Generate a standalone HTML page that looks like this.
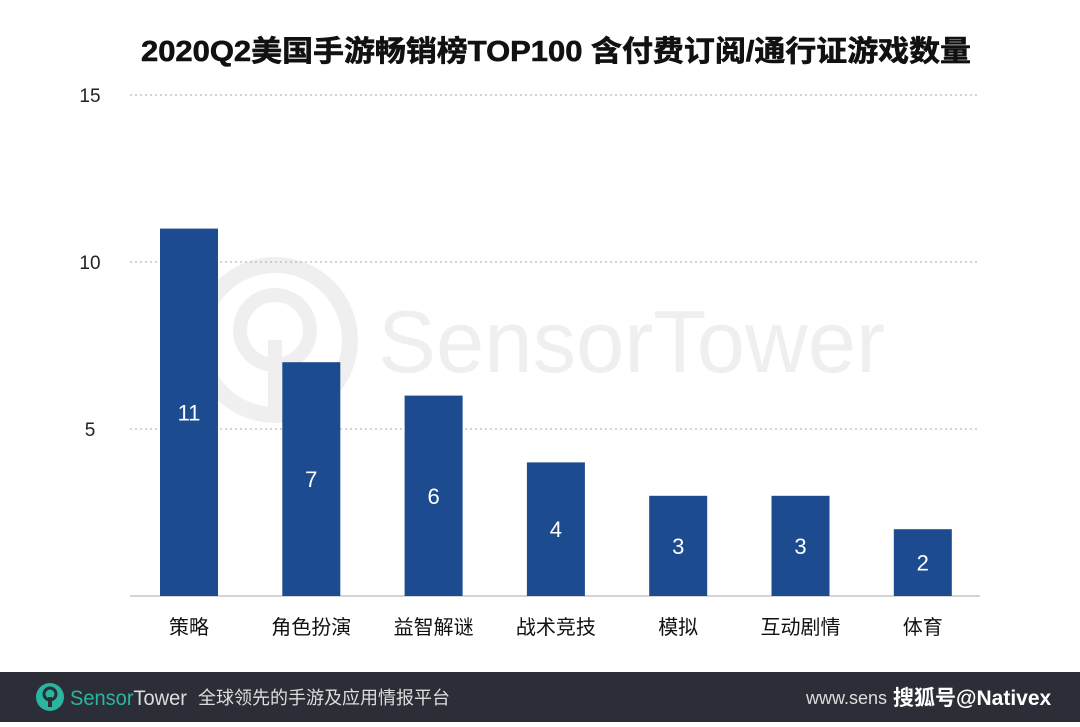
<!DOCTYPE html>
<html><head><meta charset="utf-8"><style>
body{margin:0;width:1080px;height:722px;background:#fff;overflow:hidden;font-family:"Liberation Sans","Noto Sans CJK SC",sans-serif;}
</style></head><body>
<svg id="c" width="1080" height="722" xmlns="http://www.w3.org/2000/svg">
<text x="556" y="61" text-anchor="middle" font-size="29" font-weight="bold" fill="#111" stroke="#111" stroke-width="0.6" textLength="830" lengthAdjust="spacingAndGlyphs" font-family="Liberation Sans,Noto Sans CJK SC,sans-serif">2020Q2美国手游畅销榜TOP100 含付费订阅/通行证游戏数量</text>
<g opacity="0.06">
<circle cx="275" cy="340" r="75" fill="none" stroke="#000" stroke-width="16"/>
<circle cx="275" cy="330" r="35" fill="none" stroke="#000" stroke-width="14"/>
<rect x="268" y="340" width="14" height="75" fill="#000"/>
<text x="378" y="372" font-size="88" fill="#000" textLength="507" lengthAdjust="spacingAndGlyphs" font-family="Liberation Sans,sans-serif">SensorTower</text>
</g>
<g id="grid"></g><g id="bars"></g>
<rect x="0" y="672" width="1080" height="50" fill="#2b2e37"/>
<circle cx="50" cy="697" r="14" fill="#29b5a0"/>
<circle cx="50" cy="694" r="6" fill="none" stroke="#2b2e37" stroke-width="3"/>
<rect x="48" y="697" width="4" height="10" fill="#2b2e37"/>
<text x="70" y="705" font-size="21" fill="#29b5a0" textLength="117" lengthAdjust="spacingAndGlyphs">Sensor<tspan fill="#ddd">Tower</tspan></text>
<text x="198" y="704" font-size="18" fill="#ddd">全球领先的手游及应用情报平台</text>
<text x="806" y="704" font-size="18" fill="#ddd">www.sens</text>
<text x="893" y="705" font-size="21" font-weight="bold" fill="#fff">搜狐号@Nativex</text>
</svg>
<script>
const categories=["策略","角色扮演","益智解谜","战术竞技","模拟","互动剧情","体育"];
const values=[11,7,6,4,3,3,2];
const ticks=[0,5,10,15];
const NS="http://www.w3.org/2000/svg";
const y=v=>596-v*33.4;
const x=i=>189+i*122.3;
function mk(t,a,p){const e=document.createElementNS(NS,t);for(const k in a)e.setAttribute(k,a[k]);p.appendChild(e);return e;}
const g=document.getElementById('grid'),b=document.getElementById('bars');
ticks.forEach(t=>{
 const l=mk('line',{x1:130,x2:980,y1:y(t),y2:y(t),stroke:'#aaa','stroke-width':1,'stroke-dasharray':t===0?'':'2,3'},g);
 
 
 if(t>0){const tx=mk('text',{x:90,y:y(t)+7,'text-anchor':'middle','font-size':19,fill:'#222'},g);tx.textContent=t;
 
 }
});
values.forEach((v,i)=>{
 const r=mk('rect',{x:x(i)-29,y:y(v),width:58,height:y(0)-y(v),fill:'#1c4b90'},b);
 
 
 const t=mk('text',{x:x(i),y:(y(v)+y(0))/2+8,'text-anchor':'middle','font-size':22,fill:'#fff'},b);t.textContent=v;
 
 
 const c=mk('text',{x:x(i),y:634,'text-anchor':'middle','font-size':20,fill:'#111'},b);c.textContent=categories[i];
 
 
});
</script>
</body></html>
